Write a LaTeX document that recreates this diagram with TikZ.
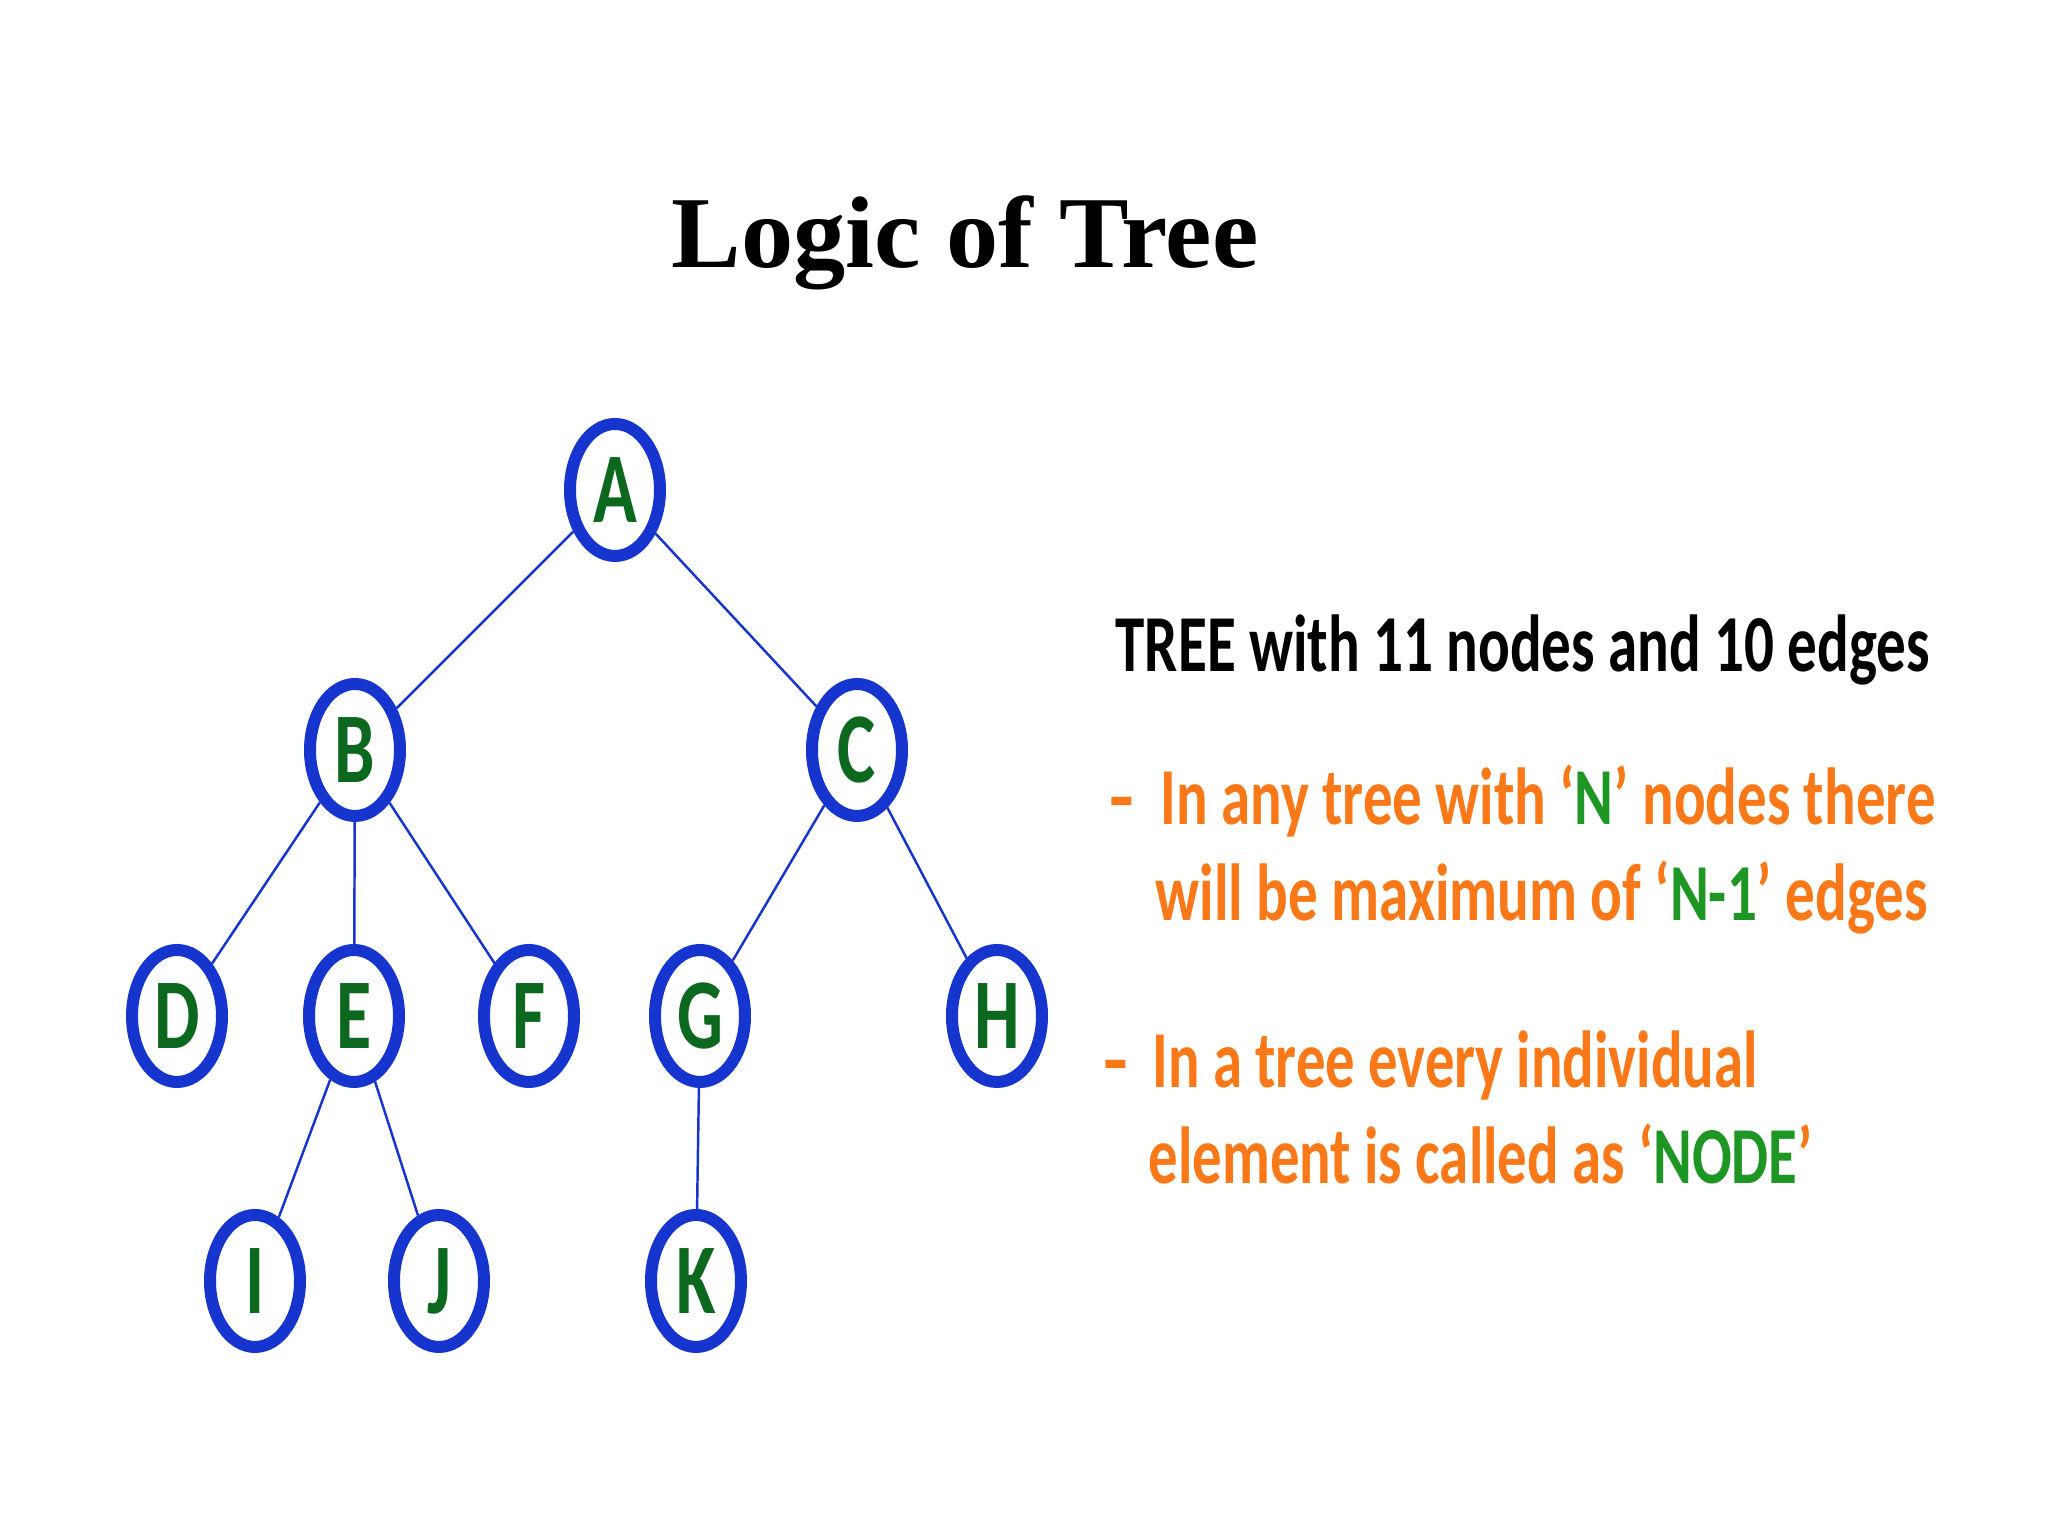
\documentclass[tikz,border=0pt]{standalone}
\usepackage{fontspec}
\usepackage{graphicx}
\usetikzlibrary{shapes.geometric}
\setmainfont{Liberation Serif}
\newfontfamily\calib{Carlito}
\definecolor{ringblue}{RGB}{22,52,206}
\definecolor{lettergreen}{RGB}{12,104,30}
\definecolor{txtorange}{RGB}{250,120,24}
\definecolor{txtgreen}{RGB}{30,150,36}
\newcommand{\narrow}[1]{\scalebox{0.72}[1]{#1}}
\newcommand{\fitw}[2]{\resizebox{#1}{\height}{#2}}
\tikzset{
  treenode/.style={ellipse, draw=ringblue, line width=0.12cm, minimum width=0.90cm,
    minimum height=1.32cm, inner sep=0pt, text=lettergreen,
    font=\calib\bfseries\fontsize{28.5}{28.5}\selectfont},
  edge/.style={draw=ringblue, line width=0.7pt},
  infotext/.style={anchor=base west, inner sep=0pt, font=\calib\bfseries\fontsize{23}{23}\selectfont}
}
\begin{document}
\begin{tikzpicture}
    \useasboundingbox (0,0) rectangle (20.48,15.36);

    % Title
    \node[anchor=base, font=\bfseries\fontsize{29}{29}\selectfont] (title) at (9.65,12.68) {\fitw{5.87cm}{Logic of Tree}};

    % Tree nodes
    \foreach \n/\x/\y in {A/6.15/10.46, B/3.55/7.86, C/8.57/7.86,
        D/1.77/5.20, E/3.54/5.20, F/5.29/5.20, G/7.00/5.20, H/9.97/5.20,
        I/2.55/2.55, J/4.39/2.55, K/6.96/2.55} {
        \node[treenode] (\n) at (\x,\y) {\narrow{\n}};
    }

    % Edges
    \foreach \p/\c in {A/B, A/C, B/D, B/E, B/F, C/G, C/H, E/I, E/J, G/K} {
        \draw[edge] (\p) -- (\c);
    }

    % Text on the right
    \node[infotext] (head) at (11.15,8.64) {\fitw{8.14cm}{TREE with 11 nodes and 10 edges}};
    \node[infotext, text=txtorange] (dash1) at (11.09,7.11) {-};
    \node[infotext, text=txtorange] (line1) at (11.60,7.11)
        {\fitw{7.75cm}{In any tree with ‘\textcolor{txtgreen}{N}’ nodes there}};
    \node[infotext, text=txtorange] (line2) at (11.55,6.15)
        {\fitw{7.72cm}{will be maximum of ‘\textcolor{txtgreen}{N-1}’ edges}};
    \node[infotext, text=txtorange] (dash2) at (11.03,4.48) {-};
    \node[infotext, text=txtorange] (line3) at (11.52,4.48)
        {\fitw{6.05cm}{In a tree every individual}};
    \node[infotext, text=txtorange] (line4) at (11.48,3.52)
        {\fitw{6.64cm}{element is called as ‘\textcolor{txtgreen}{NODE}’}};
\end{tikzpicture}
\end{document}
